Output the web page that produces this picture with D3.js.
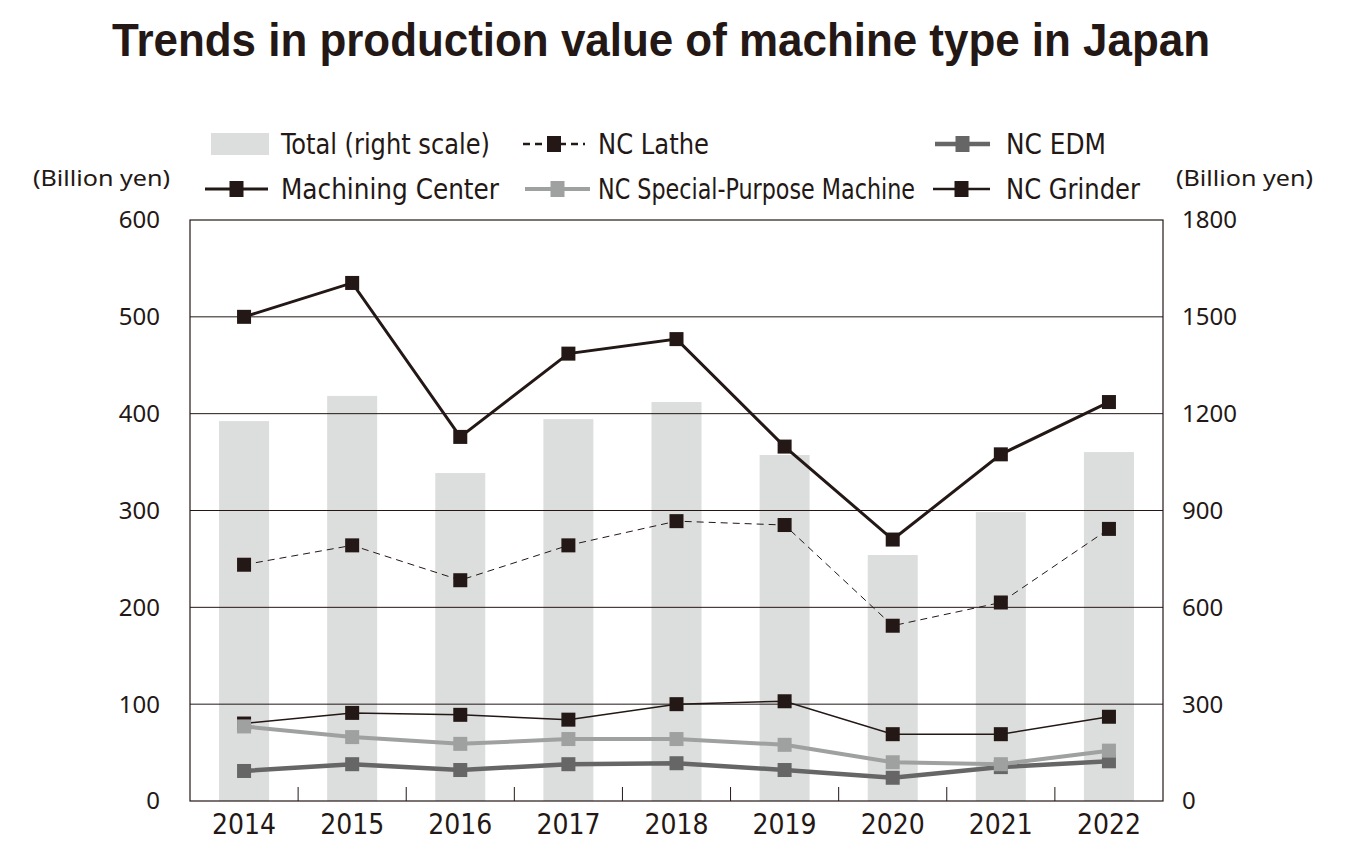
<!DOCTYPE html>
<html>
<head>
<meta charset="utf-8">
<script src="https://cdn.jsdelivr.net/npm/d3@7"></script>
<style>
  body { margin: 0; background: #fff; }
  .cond { font-family: "DejaVu Sans Condensed", "Noto Sans", sans-serif; font-stretch: condensed; }
</style>
</head>
<body>
<svg id="chart"></svg>
<script>
const years = ["2014", "2015", "2016", "2017", "2018", "2019", "2020", "2021", "2022"];
const total = [1177, 1255, 1016, 1183, 1236, 1072, 762, 895, 1081];
const machiningCenter = [500, 535, 376, 462, 477, 366, 270, 358, 412];
const ncLathe = [244, 264, 228, 264, 289, 285, 181, 205, 281];
const ncGrinder = [80, 91, 89, 84, 100, 103, 69, 69, 87];
const ncSpecial = [77, 66, 59, 64, 64, 58, 40, 38, 52];
const ncEdm = [31, 38, 32, 38, 39, 32, 24, 35, 41];
const leftTicks = [0, 100, 200, 300, 400, 500, 600];
const rightTicks = [0, 300, 600, 900, 1200, 1500, 1800];

const dark = "#231815", lightGrey = "#9fa0a0", midGrey = "#666666", barGrey = "#dcdddd";

const width = 1345, height = 868;
const svg = d3.select("#chart").attr("width", width).attr("height", height);

const plot = { left: 190, right: 1163, top: 220, bottom: 801 };

const x = d3.scaleBand().domain(years).range([plot.left, plot.right]);
const y = d3.scaleLinear().domain([0, 600]).range([plot.bottom, plot.top]);
const y2 = d3.scaleLinear().domain([0, 1800]).range([plot.bottom, plot.top]);
const cx = d => x(d) + x.bandwidth() / 2;

// title
svg.append("text")
    .attr("x", 112).attr("y", 56)
    .attr("font-family", "'Liberation Sans', Arial, sans-serif")
    .attr("font-weight", "bold")
    .attr("font-size", 46)
    .attr("textLength", 1098)
    .attr("lengthAdjust", "spacingAndGlyphs")
    .attr("fill", dark)
    .text("Trends in production value of machine type in Japan");

// bars
const barW = 50;
svg.selectAll(".bar")
    .data(years)
    .enter().append("rect")
    .attr("x", d => cx(d) - barW / 2)
    .attr("y", (d, i) => y2(total[i]))
    .attr("width", barW)
    .attr("height", (d, i) => plot.bottom - y2(total[i]))
    .attr("fill", barGrey);

// grid lines
svg.selectAll(".grid")
    .data(leftTicks.slice(1, -1))
    .enter().append("line")
    .attr("x1", plot.left).attr("x2", plot.right)
    .attr("y1", d => y(d)).attr("y2", d => y(d))
    .attr("stroke", dark).attr("stroke-width", 1);

// frame
svg.append("rect")
    .attr("x", plot.left).attr("y", plot.top)
    .attr("width", plot.right - plot.left).attr("height", plot.bottom - plot.top)
    .attr("fill", "none").attr("stroke", dark).attr("stroke-width", 1.2);

// category ticks (inward)
svg.selectAll(".ctick")
    .data(years.slice(1))
    .enter().append("line")
    .attr("x1", d => x(d)).attr("x2", d => x(d))
    .attr("y1", plot.bottom).attr("y2", plot.bottom - 14)
    .attr("stroke", dark).attr("stroke-width", 1);

// series, drawn back to front
const series = {
    mc: { name: "Machining Center", values: machiningCenter, color: dark, width: 3, dash: null },
    lathe: { name: "NC Lathe", values: ncLathe, color: dark, width: 1, dash: "7,5" },
    grinder: { name: "NC Grinder", values: ncGrinder, color: dark, width: 1.5, dash: null },
    edm: { name: "NC EDM", values: ncEdm, color: midGrey, width: 4.5, dash: null },
    special: { name: "NC Special-Purpose Machine", values: ncSpecial, color: lightGrey, width: 4, dash: null }
};
const order = ["mc", "lathe", "grinder", "edm", "special"];
const mk = 14;

const line = d3.line().x(d => cx(d.year)).y(d => y(d.value));

order.forEach(key => {
    const s = series[key];
    const pts = years.map((yr, i) => ({ year: yr, value: s.values[i] }));
    svg.append("path")
        .datum(pts)
        .attr("d", line)
        .attr("fill", "none")
        .attr("stroke", s.color)
        .attr("stroke-width", s.width)
        .attr("stroke-dasharray", s.dash);
    svg.selectAll(null)
        .data(pts)
        .enter().append("rect")
        .attr("x", d => cx(d.year) - mk / 2)
        .attr("y", d => y(d.value) - mk / 2)
        .attr("width", mk).attr("height", mk)
        .attr("fill", s.color);
});

// axis labels
const numFont = "'Noto Sans', 'Open Sans', sans-serif";
svg.selectAll(".ylab")
    .data(leftTicks)
    .enter().append("text")
    .attr("x", 160).attr("y", d => y(d))
    .attr("dy", "0.35em")
    .attr("text-anchor", "end")
    .attr("font-family", numFont).attr("font-size", 24)
    .attr("fill", dark)
    .text(d => d);

svg.selectAll(".ylab2")
    .data(rightTicks)
    .enter().append("text")
    .attr("x", 1182).attr("y", d => y2(d))
    .attr("dy", "0.35em")
    .attr("font-family", numFont).attr("font-size", 24)
    .attr("fill", dark)
    .text(d => d);

[{ x: 33 }, { x: 1176 }].forEach(u => {
    svg.append("text")
        .attr("x", u.x).attr("y", 186)
        .attr("font-family", numFont).attr("font-size", 21)
        .attr("textLength", 137)
        .attr("lengthAdjust", "spacingAndGlyphs")
        .attr("fill", dark)
        .text("(Billion yen)");
});

// year labels
svg.selectAll(".xlab")
    .data(years)
    .enter().append("text")
    .attr("class", "cond")
    .attr("x", d => cx(d) - 32).attr("y", 834)
    .attr("font-size", 28)
    .attr("textLength", 64)
    .attr("lengthAdjust", "spacingAndGlyphs")
    .attr("fill", dark)
    .text(d => d);

// legend
const legend = svg.append("g");
legend.append("rect")
    .attr("x", 211).attr("y", 133).attr("width", 58).attr("height", 22)
    .attr("fill", barGrey);
legend.append("text").attr("class", "cond")
    .attr("x", 281).attr("y", 154).attr("font-size", 28).attr("fill", dark)
    .attr("textLength", 209).attr("lengthAdjust", "spacingAndGlyphs")
    .text("Total (right scale)");

const legendItems = [
    { s: series.lathe, x1: 523, x2: 585, y: 144, tx: 598, tw: 111 },
    { s: series.edm, x1: 935, x2: 990, y: 144, tx: 1006, tw: 100 },
    { s: series.mc, x1: 205, x2: 268, y: 189, tx: 281, tw: 218 },
    { s: series.special, x1: 525, x2: 590, y: 189, tx: 598, tw: 317 },
    { s: series.grinder, x1: 933, x2: 990, y: 189, tx: 1006, tw: 134 }
];
legendItems.forEach(it => {
    legend.append("line")
        .attr("x1", it.x1).attr("x2", it.x2).attr("y1", it.y).attr("y2", it.y)
        .attr("stroke", it.s.color).attr("stroke-width", Math.max(it.s.width, 2.5))
        .attr("stroke-dasharray", it.s.dash);
    legend.append("rect")
        .attr("x", (it.x1 + it.x2) / 2 - 7).attr("y", it.y - 8)
        .attr("width", 14).attr("height", 16)
        .attr("fill", it.s.color);
    legend.append("text").attr("class", "cond")
        .attr("x", it.tx).attr("y", it.y + 10).attr("font-size", 28).attr("fill", dark)
        .attr("textLength", it.tw).attr("lengthAdjust", "spacingAndGlyphs")
        .text(it.s.name);
});
</script>
</body>
</html>
